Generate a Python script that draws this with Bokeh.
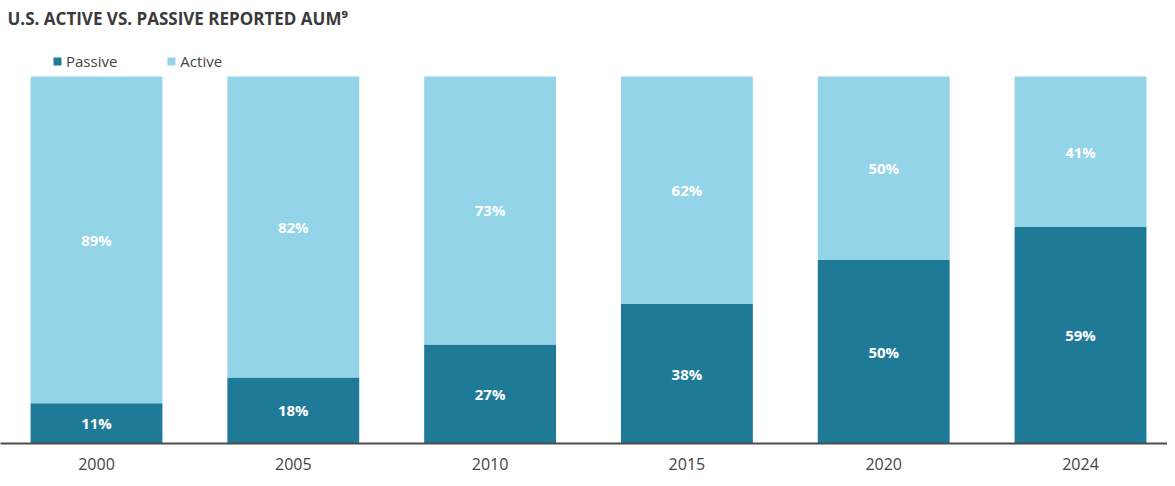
from bokeh.plotting import figure
from bokeh.models import ColumnDataSource, Legend, LegendItem, Label, FixedTicker, LabelSet
from bokeh.core.properties import value
from bokeh.embed import file_html
from bokeh.resources import INLINE

years = ["2000", "2005", "2010", "2015", "2020", "2024"]
passive = [11, 18, 27, 38, 50, 59]
active = [89, 82, 73, 62, 50, 41]

PASSIVE_C = "#1f7a97"
ACTIVE_C = "#93d4e9"
FONT = "Open Sans"

xs = list(range(len(years)))
src = ColumnDataSource(dict(
    x=xs,
    passive=[v / 100 for v in passive],
    active=[v / 100 for v in active],
))

W, H = 1167, 478
p = figure(width=W, height=H, output_backend="svg", toolbar_location=None,
           x_range=(-0.4878, 5.442), y_range=(0, 1.2071),
           min_border_left=0, min_border_right=0, min_border_top=0,
           min_border_bottom=35)
p.outline_line_color = None
p.xgrid.grid_line_color = None
p.ygrid.grid_line_color = None
p.yaxis.visible = False

rs = p.vbar_stack(["passive", "active"], x="x", width=0.67, source=src,
                  color=[PASSIVE_C, ACTIVE_C], line_color=None)

# segment labels
lab_src = ColumnDataSource(dict(
    x=xs + xs,
    y=[v / 200 for v in passive] + [(pv + av / 2) / 100 for pv, av in zip(passive, active)],
    t=[f"{v}%" for v in passive] + [f"{v}%" for v in active],
))
p.add_layout(LabelSet(x="x", y="y", text="t", source=lab_src,
                      text_color="white", text_font=value(FONT), text_font_style="bold",
                      text_font_size="15px", text_align="center",
                      text_baseline="middle"))

ax = p.xaxis[0]
ax.ticker = FixedTicker(ticks=xs)
ax.major_label_overrides = {i: y for i, y in enumerate(years)}
ax.major_tick_line_color = None
ax.minor_tick_line_color = None
ax.axis_line_color = "#4d4d4d"
ax.axis_line_width = 2
ax.major_label_text_font = FONT
ax.major_label_text_font_size = "16px"
ax.major_label_text_color = "#444444"
ax.major_label_standoff = 8

p.add_layout(Label(x=-0.4522, y=1.158, text="U.S. ACTIVE VS. PASSIVE REPORTED AUM\u2079",
                   text_font=FONT, text_font_style="bold", text_font_size="17px",
                   text_color="#3a3a3a", text_baseline="middle", text_align="left"))

legend = Legend(items=[LegendItem(label="Passive", renderers=[rs[0]]),
                       LegendItem(label="Active", renderers=[rs[1]])],
                orientation="horizontal", location=(52, 372),
                glyph_width=10, glyph_height=10, label_standoff=4, spacing=49,
                padding=0, margin=0, border_line_color=None,
                background_fill_alpha=0,
                label_text_font=FONT, label_text_font_size="15px",
                label_text_color="#444444")
p.add_layout(legend, "center")

open("out.html", "w").write(file_html(p, INLINE))
